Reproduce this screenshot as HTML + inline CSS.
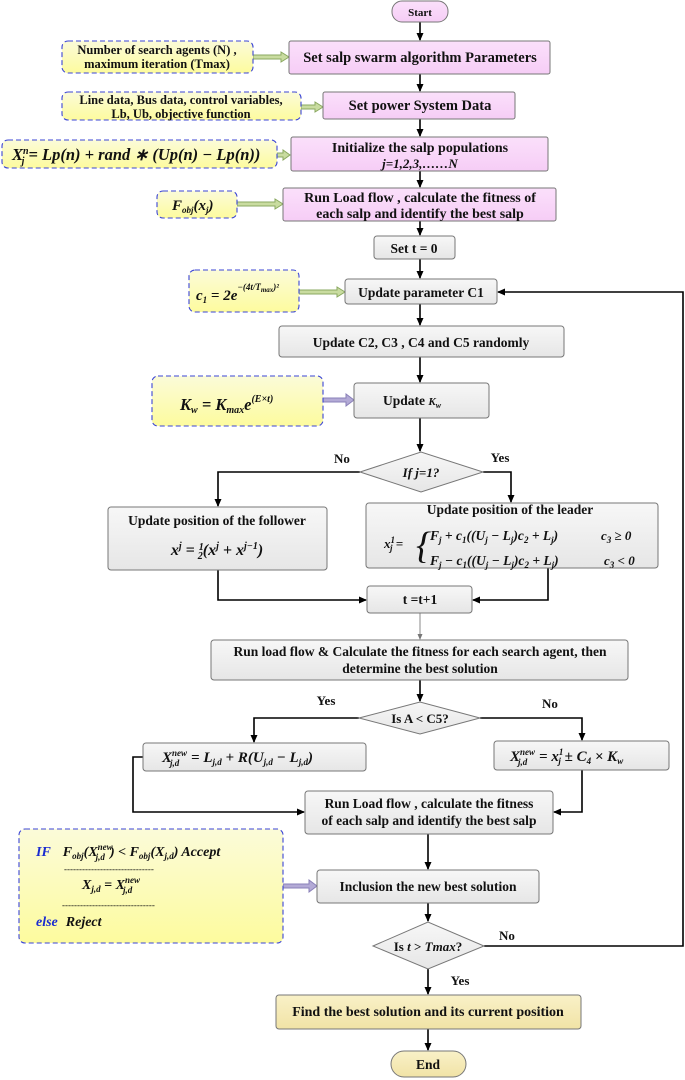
<!DOCTYPE html>
<html><head><meta charset="utf-8"><style>
html,body{margin:0;padding:0;background:#fff}
svg{display:block}
text{font-family:"Liberation Serif",serif;font-weight:bold;fill:#111}
.m{font-style:italic}
</style></head><body>
<svg width="685" height="1080" viewBox="0 0 685 1080" xmlns="http://www.w3.org/2000/svg">
<defs>
<marker id="a" markerWidth="8" markerHeight="8" refX="7" refY="4" orient="auto" markerUnits="userSpaceOnUse"><path d="M0,0.5 L8,4 L0,7.5 z" fill="#000"/></marker>
<marker id="ag" markerWidth="6" markerHeight="6" refX="5" refY="3" orient="auto" markerUnits="userSpaceOnUse"><path d="M0,0.5 L6,3 L0,5.5 z" fill="#777"/></marker>
<linearGradient id="gy" x1="0" y1="0" x2="0" y2="1"><stop offset="0" stop-color="#f7f7f7"/><stop offset="1" stop-color="#e6e6e6"/></linearGradient>
<linearGradient id="pk" x1="0" y1="0" x2="0" y2="1"><stop offset="0" stop-color="#fbe0fb"/><stop offset="1" stop-color="#f6cdf6"/></linearGradient>
<linearGradient id="yl" x1="0" y1="0" x2="0" y2="1"><stop offset="0" stop-color="#fbfbd9"/><stop offset="1" stop-color="#fdfb9e"/></linearGradient>
<linearGradient id="fd" x1="0" y1="0" x2="0" y2="1"><stop offset="0" stop-color="#f9f1c8"/><stop offset="1" stop-color="#f1e3a6"/></linearGradient>
</defs>

<g stroke="#000" stroke-width="1.6" fill="none">
<line x1="420" y1="22" x2="420" y2="40" marker-end="url(#a)"/>
<line x1="420" y1="74" x2="420" y2="91" marker-end="url(#a)"/>
<line x1="420" y1="119" x2="420" y2="136" marker-end="url(#a)"/>
<line x1="420" y1="171" x2="420" y2="187" marker-end="url(#a)"/>
<line x1="420" y1="221" x2="420" y2="235" marker-end="url(#a)"/>
<line x1="420" y1="259" x2="420" y2="278" marker-end="url(#a)"/>
<line x1="420" y1="304" x2="420" y2="325" marker-end="url(#a)"/>
<line x1="420" y1="357" x2="420" y2="382" marker-end="url(#a)"/>
<line x1="420" y1="418" x2="420" y2="451" marker-end="url(#a)"/>
<polyline points="360,472 218,472 218,506" marker-end="url(#a)"/>
<polyline points="483,472 511,472 511,502" marker-end="url(#a)"/>
<polyline points="218,570 218,600 366,600" marker-end="url(#a)"/>
<polyline points="548,568 548,600 473,600" marker-end="url(#a)"/>
<line x1="420" y1="680" x2="420" y2="701" marker-end="url(#a)"/>
<polyline points="359,718 254,718 254,742" marker-end="url(#a)"/>
<polyline points="480,718 582,718 582,740" marker-end="url(#a)"/>
<polyline points="143,757 133,757 133,812 304,812" marker-end="url(#a)"/>
<polyline points="582,770 582,812 554,812" marker-end="url(#a)"/>
<line x1="428" y1="834" x2="428" y2="869" marker-end="url(#a)"/>
<line x1="428" y1="903" x2="428" y2="921" marker-end="url(#a)"/>
<line x1="428" y1="969" x2="428" y2="994" marker-end="url(#a)"/>
<line x1="428" y1="1029" x2="428" y2="1050" marker-end="url(#a)"/>
<polyline points="484,946 683,946 683,292 498,292" marker-end="url(#a)"/>
</g>
<line x1="420" y1="613" x2="420" y2="639" stroke="#888" stroke-width="1" marker-end="url(#ag)"/>

<g fill="#c9dca0" stroke="#8aa860" stroke-width="1">
<path d="M253,55 L281,55 L281,52 L289,57 L281,62 L281,59 L253,59 z"/>
<path d="M301,105 L315,105 L315,102 L323,107 L315,112 L315,109 L301,109 z"/>
<path d="M277,153 L283,153 L283,150 L290,155 L283,160 L283,157 L277,157 z"/>
<path d="M237,202 L275,202 L275,199 L283,204 L275,209 L275,206 L237,206 z"/>
<path d="M299,290 L337,290 L337,287 L345,292 L337,297 L337,294 L299,294 z"/>
</g>
<g fill="#b3aad6" stroke="#8a80b8" stroke-width="1">
<path d="M323,398 L346,398 L346,394 L354,400 L346,406 L346,402 L323,402 z"/>
<path d="M283,884 L309,884 L309,880 L317,886 L309,892 L309,888 L283,888 z"/>
</g>

<g fill="url(#yl)" stroke="#3b45d6" stroke-width="1.1" stroke-dasharray="5,3">
<rect x="62" y="41" width="191" height="32" rx="6"/>
<rect x="62" y="92" width="239" height="28" rx="6"/>
<rect x="2" y="140" width="275" height="28" rx="6"/>
<rect x="157" y="191" width="80" height="27" rx="6"/>
<rect x="189" y="270" width="110" height="42" rx="6"/>
<rect x="152" y="376" width="171" height="50" rx="6"/>
<rect x="19" y="829" width="264" height="114" rx="6"/>
</g>

<g fill="url(#pk)" stroke="#777" stroke-width="1">
<rect x="392" y="1" width="56" height="21" rx="10"/>
<rect x="289" y="41" width="261" height="33" rx="2"/>
<rect x="323" y="92" width="192" height="27" rx="2"/>
<rect x="291" y="137" width="257" height="34" rx="2"/>
<rect x="283" y="188" width="273" height="33" rx="2"/>
</g>
<g fill="url(#gy)" stroke="#777" stroke-width="1">
<rect x="374" y="236" width="81" height="23" rx="3"/>
<rect x="345" y="279" width="152" height="25" rx="3"/>
<rect x="279" y="326" width="285" height="31" rx="3"/>
<rect x="354" y="383" width="135" height="35" rx="3"/>
<polygon points="360,472 421,452 483,472 421,492"/>
<rect x="108" y="507" width="219" height="63" rx="3"/>
<rect x="366" y="503" width="292" height="65" rx="3"/>
<rect x="367" y="586" width="105" height="27" rx="3"/>
<rect x="211" y="640" width="417" height="40" rx="3"/>
<polygon points="359,718 420,702 480,718 420,734"/>
<rect x="143" y="743" width="223" height="28" rx="3"/>
<rect x="494" y="741" width="175" height="29" rx="3"/>
<rect x="305" y="791" width="248" height="43" rx="3"/>
<rect x="317" y="870" width="222" height="33" rx="3"/>
<polygon points="373,946 428,922 484,946 428,969"/>
</g>
<rect x="276" y="995" width="305" height="34" rx="3" fill="url(#fd)" stroke="#777"/>
<rect x="391" y="1051" width="75" height="26" rx="13" fill="url(#fd)" stroke="#777"/>

<g text-anchor="middle" font-size="13">
<text x="420" y="16" font-size="11">Start</text>
<text x="420" y="62" font-size="14.5">Set salp swarm algorithm  Parameters</text>
<text x="420" y="110" font-size="14.5">Set power System Data</text>
<text x="420" y="152" font-size="14">Initialize the salp populations</text>
<text x="420" y="168" font-size="13" class="m">j=1,2,3,……N</text>
<text x="420" y="202" font-size="14">Run Load flow , calculate the fitness of</text>
<text x="420" y="218" font-size="14">each salp and identify the best salp</text>
<text x="414" y="253" font-size="13.5">Set t = 0</text>
<text x="421" y="297" font-size="13.5">Update parameter C1</text>
<text x="421" y="347" font-size="13.5">Update  C2, C3 , C4  and C5 randomly</text>
<text x="412" y="405" font-size="13.5">Update <tspan class="m" font-size="11">K</tspan><tspan class="m" font-size="8" dy="3">w</tspan></text>
<text x="421" y="477" font-size="13" class="m">If  j=1?</text>
<text x="342" y="463" font-size="13">No</text>
<text x="500" y="462" font-size="13">Yes</text>
<text x="217" y="525" font-size="13.5">Update position of the follower</text>
<text x="217" y="555" font-size="16" class="m">x<tspan font-size="10" dy="-6">j</tspan><tspan dy="6"> = </tspan><tspan font-size="10" dy="-5">1</tspan><tspan font-size="10" dy="9" dx="-6">2</tspan><tspan dy="-4">(x</tspan><tspan font-size="10" dy="-6">j</tspan><tspan dy="6"> + x</tspan><tspan font-size="10" dy="-6">j−1</tspan><tspan dy="6">)</tspan></text>
<text x="510" y="514" font-size="13.5">Update position of the leader</text>
<text x="420" y="604" font-size="13.5">t =t+1</text>
<text x="420" y="656" font-size="13.5">Run load flow &amp; Calculate the fitness for each search agent, then</text>
<text x="420" y="673" font-size="13.5">determine the best solution</text>
<text x="420" y="723" font-size="13">Is A &lt; C5?</text>
<text x="326" y="705" font-size="13">Yes</text>
<text x="550" y="708" font-size="13">No</text>
<text x="429" y="808" font-size="13.5">Run Load flow , calculate the fitness</text>
<text x="429" y="825" font-size="13.5">of each salp and identify the best salp</text>
<text x="428" y="891" font-size="13.5">Inclusion the new best solution</text>
<text x="428" y="951" font-size="13">Is <tspan class="m">t</tspan> &gt; <tspan class="m">Tmax</tspan>?</text>
<text x="507" y="940" font-size="13">No</text>
<text x="460" y="985" font-size="13">Yes</text>
<text x="428" y="1016" font-size="14">Find the best solution and its current position</text>
<text x="428" y="1069" font-size="13.5">End</text>
<text x="157" y="54" font-size="12.5">Number of search agents (N) ,</text>
<text x="157" y="68" font-size="12.5">maximum iteration (Tmax)</text>
<text x="181" y="104" font-size="12.5">Line data, Bus data, control variables,</text>
<text x="181" y="118" font-size="12.5">Lb, Ub, objective function</text>
</g>

<g class="m">
<text x="12" y="160" class="m" font-size="16.5">X<tspan font-size="10" dy="-6">n</tspan><tspan font-size="10" dy="10" dx="-7">j</tspan><tspan dy="-4"> = Lp(n) + rand ∗ (Up(n) − Lp(n))</tspan></text>
<text x="172" y="210" class="m" font-size="15">F<tspan font-size="9" dy="3">obj</tspan><tspan dy="-3">(x</tspan><tspan font-size="9" dy="3">j</tspan><tspan dy="-3">)</tspan></text>
<text x="196" y="300" class="m" font-size="15">c<tspan font-size="9" dy="3">1</tspan><tspan dy="-3"> = 2e</tspan><tspan font-size="9" dy="-10">−(4t/T</tspan><tspan font-size="7" dy="2">max</tspan><tspan font-size="9" dy="-2">)²</tspan></text>
<text x="180" y="410" class="m" font-size="16.5">K<tspan font-size="10" dy="3">w</tspan><tspan dy="-3"> = K</tspan><tspan font-size="10" dy="3">max</tspan><tspan dy="-3">e</tspan><tspan font-size="10" dy="-8">(E×t)</tspan></text>
<text x="384" y="548" class="m" font-size="13">x<tspan font-size="9" dy="-5">1</tspan><tspan font-size="9" dy="8" dx="-5">j</tspan><tspan dy="-3"> =</tspan></text>
<text x="416" y="558" font-size="38" style="font-weight:normal">{</text>
<text x="430" y="540" class="m" font-size="13.5">F<tspan font-size="9" dy="3">j</tspan><tspan dy="-3"> + c</tspan><tspan font-size="9" dy="3">1</tspan><tspan dy="-3">((U</tspan><tspan font-size="9" dy="3">j</tspan><tspan dy="-3"> − L</tspan><tspan font-size="9" dy="3">j</tspan><tspan dy="-3">)c</tspan><tspan font-size="9" dy="3">2</tspan><tspan dy="-3"> + L</tspan><tspan font-size="9" dy="3">j</tspan><tspan dy="-3">)</tspan></text>
<text x="430" y="565" class="m" font-size="13.5">F<tspan font-size="9" dy="3">j</tspan><tspan dy="-3"> − c</tspan><tspan font-size="9" dy="3">1</tspan><tspan dy="-3">((U</tspan><tspan font-size="9" dy="3">j</tspan><tspan dy="-3"> − L</tspan><tspan font-size="9" dy="3">j</tspan><tspan dy="-3">)c</tspan><tspan font-size="9" dy="3">2</tspan><tspan dy="-3"> + L</tspan><tspan font-size="9" dy="3">j</tspan><tspan dy="-3">)</tspan></text>
<text x="601" y="540" class="m" font-size="13">c<tspan font-size="9" dy="3">3</tspan><tspan dy="-3"> ≥ 0</tspan></text>
<text x="604" y="565" class="m" font-size="13">c<tspan font-size="9" dy="3">3</tspan><tspan dy="-3"> &lt; 0</tspan></text>
<text x="162" y="762" class="m" font-size="15">X<tspan font-size="9" dy="-6">new</tspan><tspan font-size="9" dy="10" dx="-17">j,d</tspan><tspan dy="-4" dx="8">  =  L</tspan><tspan font-size="9" dy="3">j,d</tspan><tspan dy="-3"> + R(U</tspan><tspan font-size="9" dy="3">j,d</tspan><tspan dy="-3"> − L</tspan><tspan font-size="9" dy="3">j,d</tspan><tspan dy="-3">)</tspan></text>
<text x="510" y="761" class="m" font-size="15">X<tspan font-size="9" dy="-6">new</tspan><tspan font-size="9" dy="10" dx="-17">j,d</tspan><tspan dy="-4" dx="8"> = x</tspan><tspan font-size="9" dy="-6">1</tspan><tspan font-size="9" dy="9" dx="-5">j</tspan><tspan dy="-3"> ± C</tspan><tspan font-size="9" dy="3">4</tspan><tspan dy="-3"> × K</tspan><tspan font-size="9" dy="3">w</tspan></text>
<text x="36" y="856" class="m" font-size="14"><tspan fill="#1a2bd0">IF</tspan><tspan dx="12">F</tspan><tspan font-size="9" dy="3">obj</tspan><tspan dy="-3">(X</tspan><tspan font-size="9" dy="-6">new</tspan><tspan font-size="9" dy="10" dx="-17">j,d</tspan><tspan dy="-4" dx="5">) &lt; F</tspan><tspan font-size="9" dy="3">obj</tspan><tspan dy="-3">(X</tspan><tspan font-size="9" dy="3">j,d</tspan><tspan dy="-3">)  Accept</tspan></text>
<text x="64" y="872" font-size="9" style="font-weight:normal">------------------------------</text>
<text x="82" y="889" class="m" font-size="14">X<tspan font-size="9" dy="3">j,d</tspan><tspan dy="-3">  =  X</tspan><tspan font-size="9" dy="-6">new</tspan><tspan font-size="9" dy="10" dx="-17">j,d</tspan></text>
<text x="62" y="908" font-size="9" style="font-weight:normal">-------------------------------</text>
<text x="36" y="926" class="m" font-size="14"><tspan fill="#1a2bd0">else</tspan><tspan dx="8">Reject</tspan></text>
</g>
</svg>
</body></html>
